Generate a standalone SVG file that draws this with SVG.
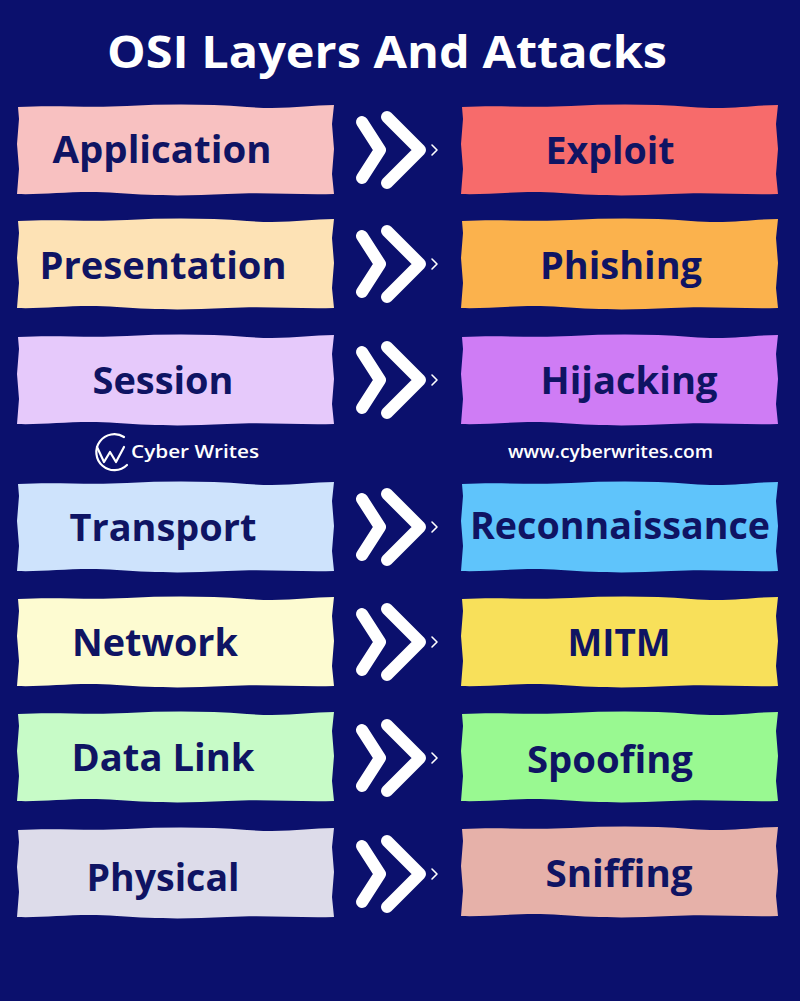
<svg xmlns="http://www.w3.org/2000/svg" width="800" height="1001" viewBox="0 0 800 1001">
<style>
.lbl{font-family:"Open Sans","Liberation Sans",sans-serif;font-weight:700;font-size:37px;fill:#0f1463}
.title{font-family:"Open Sans","Liberation Sans",sans-serif;font-weight:700;font-size:45px;fill:#ffffff}
.wm{font-family:"Open Sans","Liberation Sans",sans-serif;font-weight:600;font-size:18px;fill:#ffffff}
.chev{fill:none;stroke:#ffffff;stroke-width:12;stroke-linecap:round;stroke-linejoin:round}
.tip{fill:none;stroke:#ffffff;stroke-width:1.6;stroke-linecap:round;stroke-linejoin:round}
</style>
<defs>
<path id="box" d="M1,3 C40,1 70,4 110,2 S190,0 230,3 S290,1 317,1 L315,20 L317,45 L315,70 L317,90 C280,91 250,88 210,90 S140,92 100,89 S30,91 0,90 L2,65 L0,40 L2,15 Z"/>
<g id="arrow">
<path class="chev" d="M362,-28 L380,0 L362,28"/>
<path class="chev" d="M387,-33 L420,0 L387,33"/>
<path class="tip" d="M432,-5 L437,0 L432,5"/>
</g>
</defs>
<rect x="0" y="0" width="800" height="1001" fill="#0b106d"/>
<text class="title" x="387" y="68" text-anchor="middle" textLength="560" lengthAdjust="spacingAndGlyphs">OSI Layers And Attacks</text>

<g id="connectors">
<use href="#arrow" transform="translate(0,150)"/>
<use href="#arrow" transform="translate(0,264)"/>
<use href="#arrow" transform="translate(0,380)"/>
<use href="#arrow" transform="translate(0,527)"/>
<use href="#arrow" transform="translate(0,642)"/>
<use href="#arrow" transform="translate(0,758)"/>
<use href="#arrow" transform="translate(0,874)"/>
</g>

<g id="application"><use href="#box" transform="translate(17,104)" fill="#f8c1c1"/><text class="lbl" x="162" y="163" text-anchor="middle" textLength="219" lengthAdjust="spacingAndGlyphs">Application</text></g>
<g id="exploit"><use href="#box" transform="translate(461,104)" fill="#f76b6b"/><text class="lbl" x="610" y="164" text-anchor="middle" textLength="129" lengthAdjust="spacingAndGlyphs">Exploit</text></g>

<g id="presentation"><use href="#box" transform="translate(17,218)" fill="#fde2b5"/><text class="lbl" x="163" y="279" text-anchor="middle" textLength="247" lengthAdjust="spacingAndGlyphs">Presentation</text></g>
<g id="phishing"><use href="#box" transform="translate(461,218)" fill="#fbb24d"/><text class="lbl" x="621" y="279" text-anchor="middle" textLength="162" lengthAdjust="spacingAndGlyphs">Phishing</text></g>

<g id="session"><use href="#box" transform="translate(17,334)" fill="#e6c9fb"/><text class="lbl" x="163" y="394" text-anchor="middle" textLength="141" lengthAdjust="spacingAndGlyphs">Session</text></g>
<g id="hijacking"><use href="#box" transform="translate(461,334)" fill="#cf7cf5"/><text class="lbl" x="629" y="394" text-anchor="middle" textLength="177" lengthAdjust="spacingAndGlyphs">Hijacking</text></g>

<g id="watermark">
<path d="M124,437 A18,18 0 1 0 127,465" fill="none" stroke="#ffffff" stroke-width="2.2" stroke-linecap="round"/>
<path d="M97,447 L104,462 L110,452 L116,462 L124,447" fill="none" stroke="#ffffff" stroke-width="2.2" stroke-linecap="round" stroke-linejoin="round"/>
<text class="wm" x="131" y="458" textLength="128" lengthAdjust="spacingAndGlyphs">Cyber Writes</text>
<text class="wm" x="508" y="458" textLength="205" lengthAdjust="spacingAndGlyphs">www.cyberwrites.com</text>
</g>

<g id="transport"><use href="#box" transform="translate(17,481)" fill="#cee3fc"/><text class="lbl" x="163" y="541" text-anchor="middle" textLength="187" lengthAdjust="spacingAndGlyphs">Transport</text></g>
<g id="reconnaissance"><use href="#box" transform="translate(461,481)" fill="#5fc4fb"/><text class="lbl" x="620" y="539" text-anchor="middle" textLength="300" lengthAdjust="spacingAndGlyphs">Reconnaissance</text></g>

<g id="network"><use href="#box" transform="translate(17,596)" fill="#fdfbd1"/><text class="lbl" x="155" y="656" text-anchor="middle" textLength="166" lengthAdjust="spacingAndGlyphs">Network</text></g>
<g id="mitm"><use href="#box" transform="translate(461,596)" fill="#f8e05a"/><text class="lbl" x="619" y="656" text-anchor="middle" textLength="103" lengthAdjust="spacingAndGlyphs">MITM</text></g>

<g id="datalink"><use href="#box" transform="translate(17,711)" fill="#c7fbc7"/><text class="lbl" x="163" y="771" text-anchor="middle" textLength="183" lengthAdjust="spacingAndGlyphs">Data Link</text></g>
<g id="spoofing"><use href="#box" transform="translate(461,711)" fill="#99f991"/><text class="lbl" x="610" y="773" text-anchor="middle" textLength="166" lengthAdjust="spacingAndGlyphs">Spoofing</text></g>

<g id="physical"><use href="#box" transform="translate(17,827)" fill="#dddcea"/><text class="lbl" x="163" y="891" text-anchor="middle" textLength="153" lengthAdjust="spacingAndGlyphs">Physical</text></g>
<g id="sniffing"><use href="#box" transform="translate(461,826)" fill="#e6b1a9"/><text class="lbl" x="619" y="887" text-anchor="middle" textLength="147" lengthAdjust="spacingAndGlyphs">Sniffing</text></g>
</svg>
